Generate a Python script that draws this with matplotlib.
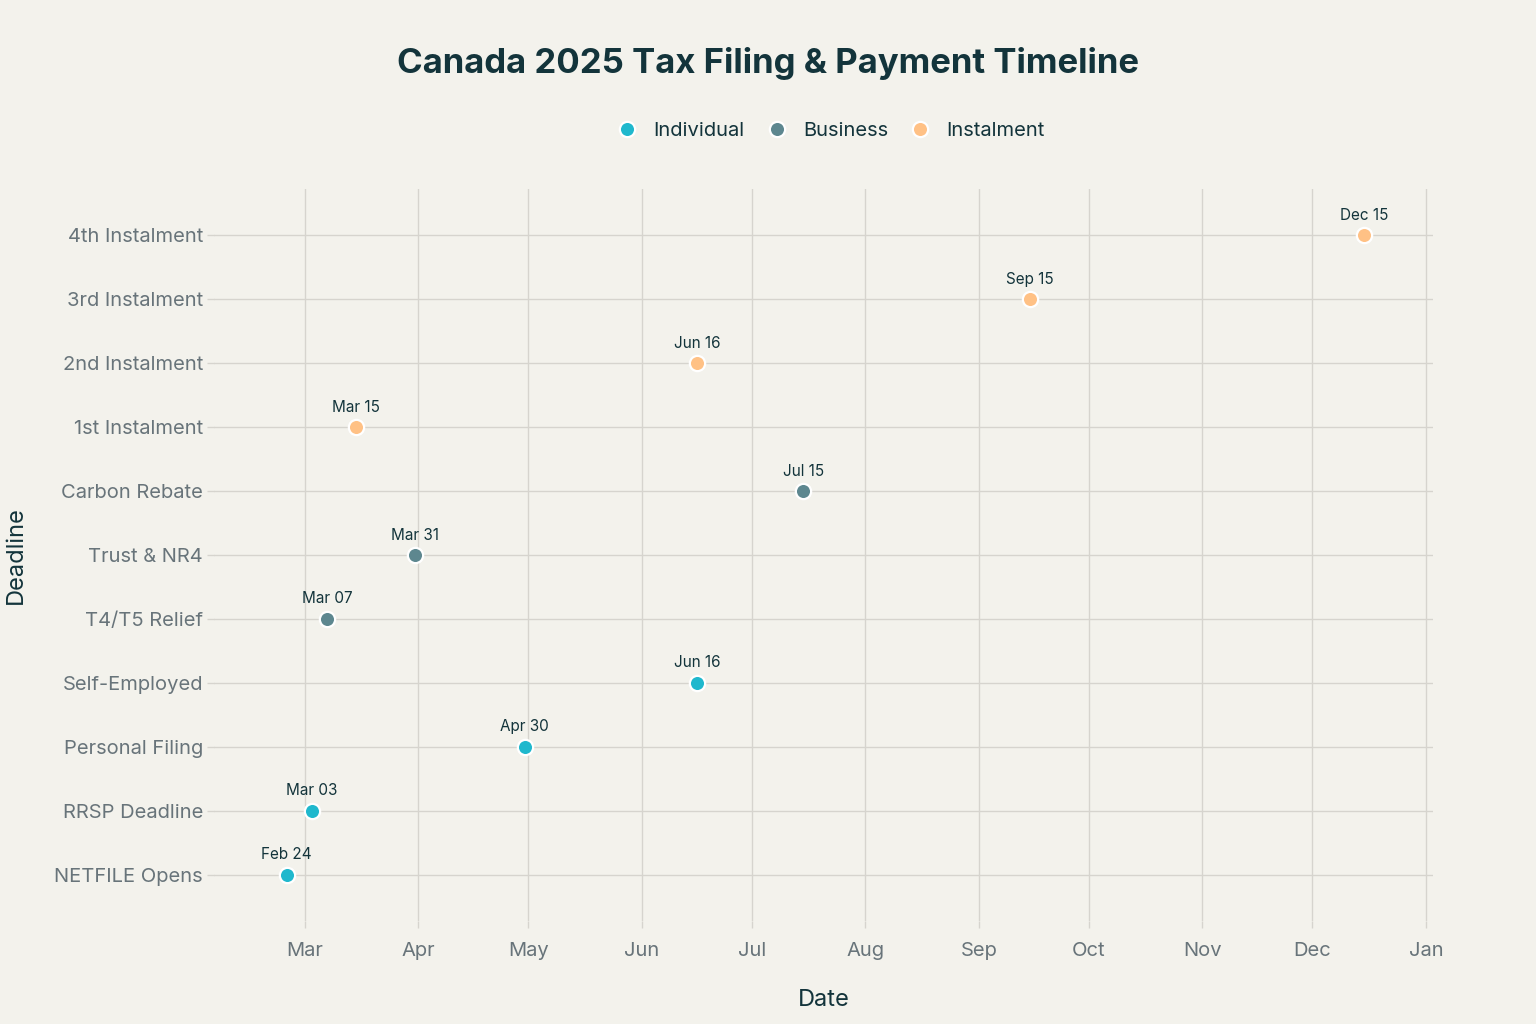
import matplotlib
matplotlib.use("Agg")
import matplotlib.pyplot as plt
import matplotlib.dates as mdates
from matplotlib.lines import Line2D
import datetime as dt

# ---- data ----
categories = ["NETFILE Opens", "RRSP Deadline", "Personal Filing", "Self-Employed",
              "T4/T5 Relief", "Trust & NR4", "Carbon Rebate",
              "1st Instalment", "2nd Instalment", "3rd Instalment", "4th Instalment"]
dates = ["2025-02-24", "2025-03-03", "2025-04-30", "2025-06-16",
         "2025-03-07", "2025-03-31", "2025-07-15",
         "2025-03-15", "2025-06-16", "2025-09-15", "2025-12-15"]
types = ["Individual", "Individual", "Individual", "Individual",
         "Business", "Business", "Business",
         "Instalment", "Instalment", "Instalment", "Instalment"]
type_order = ["Individual", "Business", "Instalment"]
type_colors = {"Individual": "#1FB8CD", "Business": "#5D878F", "Instalment": "#FFC185"}

plt.rcParams['font.family'] = ['Inter', 'DejaVu Sans']

BG = "#F3F2EC"
DARK = "#13343B"
TICK = "#68747A"
GRID = "#D6D4CE"

fig = plt.figure(figsize=(15.36, 10.24), dpi=100, facecolor=BG)
ax = fig.add_axes([214/1536, 1-921/1024, (1433-214)/1536, (921-189)/1024])
ax.set_facecolor(BG)

dvals = [dt.datetime.strptime(d, "%Y-%m-%d") for d in dates]
ypos = list(range(len(categories)))

for t in type_order:
    xs = [d for d, tt in zip(dvals, types) if tt == t]
    ys = [y for y, tt in zip(ypos, types) if tt == t]
    ax.plot(xs, ys, linestyle="none", marker="o", markersize=11,
            markerfacecolor=type_colors[t], markeredgecolor="white",
            markeredgewidth=1.6, zorder=3, label=t)

for d, y in zip(dvals, ypos):
    ax.annotate(d.strftime("%b %d"), (d, y), xytext=(0, 9), textcoords="offset points",
                ha="center", va="bottom", fontsize=11, color=DARK, zorder=4)

ax.set_yticks(ypos)
ax.set_yticklabels(categories)
ax.set_ylim(-0.72, 10.72)

ax.set_xlim(dt.datetime(2025, 2, 4, 5), dt.datetime(2026, 1, 2, 22))
ax.xaxis.set_major_locator(mdates.MonthLocator(bymonth=[3, 4, 5, 6, 7, 8, 9, 10, 11, 12, 1]))
ax.xaxis.set_major_formatter(mdates.DateFormatter("%b"))

for s in ax.spines.values():
    s.set_visible(False)
ax.grid(True, color=GRID, linewidth=1.0, zorder=0)
ax.set_axisbelow(True)
ax.tick_params(axis="both", colors=GRID, labelcolor=TICK, labelsize=14.5, length=5, width=1)
ax.tick_params(axis="x", pad=10)
ax.tick_params(axis="y", pad=3)

ax.set_xlabel("Date", fontsize=17, color=DARK, labelpad=21)
ax.set_ylabel("Deadline", fontsize=17, color=DARK, labelpad=20)

fig.text(0.5, 1-64/1024, "Canada 2025 Tax Filing & Payment Timeline", ha="center", va="center",
         fontsize=25, fontweight="bold", color=DARK)

handles = [Line2D([], [], linestyle="none", marker="o", markersize=11,
                  markerfacecolor=type_colors[t], markeredgecolor="white",
                  markeredgewidth=1.6) for t in type_order]
leg = fig.legend(handles, type_order, loc="center", bbox_to_anchor=(826/1536, 1-131/1024),
                 ncol=3, frameon=False, fontsize=14.5, handletextpad=0.3, columnspacing=0.6)
for txt in leg.get_texts():
    txt.set_color(DARK)

fig.savefig("out.png", dpi=100, facecolor=BG)
